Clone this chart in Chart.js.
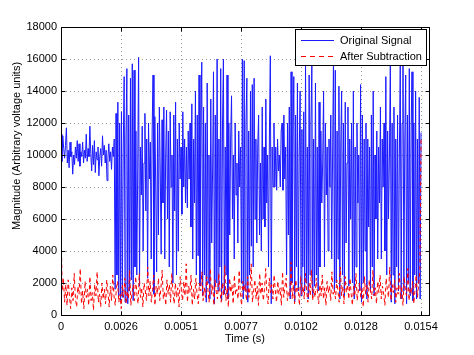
<!DOCTYPE html>
<html><head><meta charset="utf-8">
<script src="https://cdn.jsdelivr.net/npm/chart.js@4/dist/chart.umd.min.js"></script>
<style>html,body{margin:0;padding:0;background:#fff;}canvas{display:block;}</style>
</head><body>
<canvas id="c" width="474" height="355"></canvas>
<script>
// ---- data ----
const signalDuration = 0.01536; // seconds covered by the samples
const xTickValues = [0, 0.00256, 0.00512, 0.00768, 0.01024, 0.0128, 0.01536];
const xTickLabels = ['0', '0.0026', '0.0051', '0.0077', '0.0102', '0.0128', '0.0154'];
const yTickValues = [0, 2000, 4000, 6000, 8000, 10000, 12000, 14000, 16000, 18000];
const yTickLabels = ['0', '2000', '4000', '6000', '8000', '10000', '12000', '14000', '16000', '18000'];
const seriesNames = ['Original Signal', 'After Subtraction'];
const xTitle = 'Time (s)';
const yTitle = 'Magnitude (Arbitrary voltage units)';

const originalSignal = [
11300,9600,11200,10400,9800,10600,11700,9500,10300,9200,10800,9900,10200,8800,10000,9400,10500,9800,10900,9600,
10700,9300,10200,9900,10800,9500,10300,9800,11300,9600,10400,9900,11800,10100,9000,10600,9400,10900,8900,10200,
9700,10500,8700,9900,10400,9300,11200,10000,10600,9500,10300,8400,9800,10700,9600,10200,9100,10500,9900,11000,
1600,12600,2500,13300,1200,12000,900,12700,1100,10500,14900,800,11000,15400,700,12500,1500,14800,2200,15700,
900,15300,3000,11500,2500,9000,16100,1800,10500,7500,11800,4000,9500,12600,6500,11000,2300,12000,8500,10800,
3500,11500,15000,1300,12400,8000,2700,12000,5000,13000,9000,3800,12200,7000,13000,3500,10000,12800,6000,11500,
3000,12700,8000,10000,2000,12500,6500,13300,2500,11000,4000,12000,8500,10500,6300,12700,8000,11000,7000,10500,
6700,11500,8500,12000,5500,13200,3500,11000,7000,14000,2500,12500,3700,15000,1800,11500,15800,1200,13000,2500,
12000,800,14500,2000,10000,1000,13500,4500,9000,15200,700,12500,2000,16000,1500,11000,3000,15400,900,12000,
16000,1300,10500,2500,15000,1000,12000,5000,11000,13700,6000,10000,3500,12000,7500,9500,4500,11500,8000,10500,
2000,16000,1000,15900,1500,12000,14800,800,11500,2500,14000,4300,14400,3000,14800,6000,11000,4500,10500,12500,
5000,9500,4000,13000,6000,10500,5500,13500,7000,10000,3000,11500,16200,700,10500,8000,12000,8000,10500,7800,
11000,9000,10000,8000,11500,12000,7800,12500,8500,10500,2500,12000,5000,13000,1000,15200,2000,11000,14900,800,
12500,3000,14500,1500,10000,14000,1200,11600,3000,12700,1500,15800,2000,10500,1000,15000,2500,12000,15700,1200,
11000,1800,14500,2500,10500,1500,13300,3000,11500,7000,9500,14000,3000,12000,7500,10500,4000,11000,8000,12500,
3500,10000,16300,1500,15300,2000,11500,3500,14300,1000,10500,14000,2500,12000,1200,13300,4500,9500,13000,1800,
11000,6000,12000,2000,14000,1000,10500,3000,12000,7000,10000,1500,14400,800,12500,2000,11000,4000,12000,1000,
11000,5500,10500,1500,12500,3000,14000,1200,10000,6000,11500,3500,10500,7000,13000,3500,11000,8000,12000,4000,
14900,2500,11500,6000,10000,16000,800,12000,2500,13000,700,11000,3000,12500,1500,10000,16000,1000,12000,15800,
1500,11000,15000,700,12500,2000,15400,1200,11500,15200,900,12000,2500,14000,1000,11000,2000,13600,1000,11400
];

const afterSubtraction = [
5800,1500,2300,800,1900,600,2200,1200,400,1700,900,2600,1000,500,1800,1300,2900,700,1500,400,
2100,1100,1600,600,2400,900,1400,300,1900,1200,2700,800,1300,500,2000,1000,1600,700,2200,1400,
500,1800,900,2500,1200,600,1700,2100,800,1300,400,1900,1100,2300,700,1500,1000,2800,600,1400,
1900,900,2400,1300,700,2600,1100,1700,500,2000,1500,900,3000,1200,2100,800,1600,2500,600,1800,
1300,2300,900,1700,2800,1000,1500,600,2200,1300,1900,800,2600,1400,700,2000,1100,1700,500,2400,
1500,900,2100,1200,3200,800,1800,1400,2500,600,1600,1000,2300,1300,700,2000,1500,2700,900,1700,
1100,2400,1600,800,2900,1300,1900,600,2200,1400,1000,2600,1500,800,2000,1200,3100,900,1700,500,
2300,1400,1900,700,2500,1300,1600,1000,2800,1200,600,2100,1500,1900,900,2400,1100,1700,3200,800,
1500,2200,1000,1800,600,2600,1300,2000,900,1600,2900,1200,700,2300,1400,1900,1000,2500,1500,800,
2100,1300,1700,600,2700,1100,1800,2300,900,1500,1200,3300,1000,1900,700,2200,1400,1700,600,2400,
1300,1800,1000,2600,1500,800,2000,1200,2800,900,1600,1100,2300,1400,700,1900,1200,2500,1000,1700,
600,2100,1400,1800,900,2700,1300,1600,1000,2200,1500,800,3000,1200,1800,700,2400,1400,1900,1000,
2300,1300,600,1800,1200,2600,900,1600,2000,1100,1700,500,2400,1300,1900,800,2200,1500,1000,2800,
1200,1700,700,2100,1400,2500,1000,1800,1300,600,2300,1600,1100,3000,900,1900,1400,2200,800,1700,
1300,2600,1000,1800,600,2400,1500,1200,2900,900,1700,1300,2100,700,1600,2500,1100,1900,2700,11000
];

// ---- build points (evenly sampled over the signal duration) ----
function toPoints(values) {
  const n = values.length;
  return values.map((v, i) => ({ x: signalDuration * i / (n - 1), y: v }));
}

const FONT = '"Liberation Sans", Arial, Helvetica, sans-serif';
Chart.defaults.font.family = FONT;
Chart.defaults.font.size = 11;
Chart.defaults.color = '#000';

const blueStyle = { color: '#1a1aff', width: 1, dash: [] };
const redStyle = { color: '#ff0000', width: 1, dash: [4, 3] };

const framePlugin = {
  id: 'frame',
  afterDraw(chart) {
    const { ctx, chartArea: a, scales: { x, y } } = chart;
    const L = Math.round(a.left) + 0.5, R = Math.round(a.right) + 0.5;
    const T = Math.round(a.top) + 0.5, B = Math.round(a.bottom) + 0.5;
    ctx.save();
    ctx.strokeStyle = '#000';
    ctx.lineWidth = 1;
    ctx.setLineDash([]);
    ctx.strokeRect(L, T, R - L, B - T);
    // inward ticks on all four sides
    ctx.beginPath();
    xTickValues.forEach(v => {
      const px = Math.round(x.getPixelForValue(v)) + 0.5;
      ctx.moveTo(px, B); ctx.lineTo(px, B - 4);
      ctx.moveTo(px, T); ctx.lineTo(px, T + 4);
    });
    yTickValues.forEach(v => {
      const py = Math.round(y.getPixelForValue(v)) + 0.5;
      ctx.moveTo(L, py); ctx.lineTo(L + 4, py);
      ctx.moveTo(R, py); ctx.lineTo(R - 4, py);
    });
    ctx.stroke();

    // legend box
    const bw = 131, bh = 36;
    const bx = Math.round(a.right) - 3 - bw, by = Math.round(a.top) + 2;
    ctx.fillStyle = '#fff';
    ctx.fillRect(bx, by, bw, bh);
    ctx.strokeRect(bx + 0.5, by + 0.5, bw, bh);
    ctx.font = '11px ' + FONT;
    ctx.textBaseline = 'middle';
    ctx.textAlign = 'left';
    [blueStyle, redStyle].forEach((s, i) => {
      const ly = by + 11 + i * 16 + 0.5;
      ctx.strokeStyle = s.color;
      ctx.lineWidth = s.width;
      ctx.setLineDash(s.dash.length ? [5, 4] : []);
      ctx.beginPath(); ctx.moveTo(bx + 6, ly); ctx.lineTo(bx + 39, ly); ctx.stroke();
      ctx.fillStyle = '#000';
      ctx.fillText(seriesNames[i], bx + 45, ly);
    });
    ctx.setLineDash([]);

    // axis titles
    ctx.fillStyle = '#000';
    ctx.font = '11px ' + FONT;
    ctx.textAlign = 'center';
    ctx.fillText(xTitle, (a.left + a.right) / 2, 339);
    ctx.translate(17, 146);
    ctx.rotate(-Math.PI / 2);
    ctx.fillText(yTitle, 0, 0);
    ctx.restore();
  }
};

new Chart(document.getElementById('c'), {
  type: 'line',
  data: {
    datasets: [
      {
        label: seriesNames[0], data: toPoints(originalSignal),
        borderColor: blueStyle.color, borderWidth: blueStyle.width,
        pointRadius: 0, tension: 0, fill: false, order: 2
      },
      {
        label: seriesNames[1], data: toPoints(afterSubtraction),
        borderColor: redStyle.color, borderWidth: redStyle.width, borderDash: redStyle.dash,
        pointRadius: 0, tension: 0, fill: false, order: 1
      }
    ]
  },
  options: {
    responsive: false,
    animation: false,
    devicePixelRatio: 1,
    layout: { padding: { left: 0, right: 45, top: 27, bottom: 0 } },
    plugins: { legend: { display: false }, tooltip: { enabled: false } },
    scales: {
      x: {
        type: 'linear', min: 0, max: 0.0157,
        afterBuildTicks: s => { s.ticks = xTickValues.map(v => ({ value: v })); },
        afterFit: s => { s.height = 40; },
        grid: { color: '#9a9a9a', lineWidth: 1, drawTicks: false },
        border: { display: true, color: '#000', width: 1, dash: [1, 3] },
        ticks: { autoSkip: false, maxRotation: 0, padding: 5, callback: (v, i) => xTickLabels[i] }
      },
      y: {
        type: 'linear', min: 0, max: 18000,
        afterBuildTicks: s => { s.ticks = yTickValues.map(v => ({ value: v })); },
        afterFit: s => { s.width = 61; },
        grid: { color: '#9a9a9a', lineWidth: 1, drawTicks: false },
        border: { display: true, color: '#000', width: 1, dash: [1, 3] },
        ticks: { autoSkip: false, padding: 4, callback: (v, i) => yTickLabels[i] }
      }
    }
  },
  plugins: [framePlugin]
});
</script>
</body></html>
